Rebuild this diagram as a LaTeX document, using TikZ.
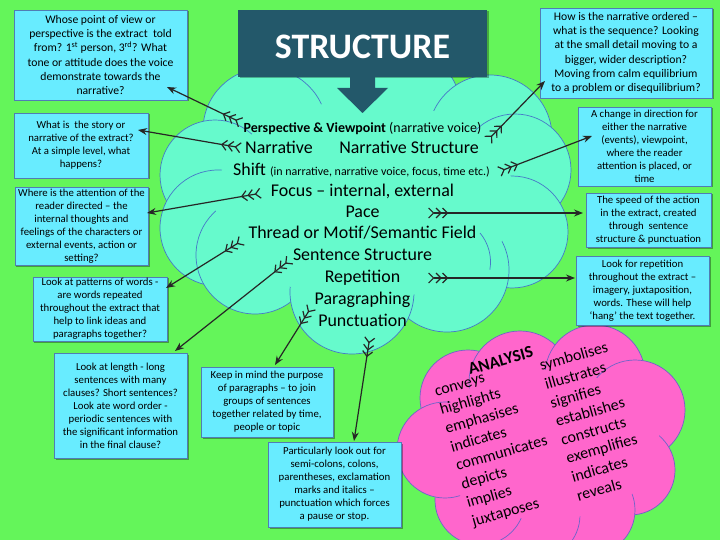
\documentclass[tikz,border=0pt]{standalone}
\usepackage{fontspec}
\setmainfont{Carlito}
\usetikzlibrary{arrows.meta,shadows,calc}
\definecolor{bggreen}{RGB}{100,245,90}
\definecolor{cloudfill}{RGB}{102,250,204}
\definecolor{cloudline}{RGB}{70,120,200}
\definecolor{pinkfill}{RGB}{255,102,204}
\definecolor{pinkline}{RGB}{110,100,200}
\definecolor{boxfill}{RGB}{104,236,255}
\definecolor{boxline}{RGB}{80,125,180}
\definecolor{titleblue}{RGB}{35,88,106}
\tikzset{
  boxstyle/.style={draw=boxline, line width=0.8bp, fill=boxfill, align=center, inner sep=0pt,
    drop shadow={shadow xshift=1.5bp, shadow yshift=-1.5bp, opacity=0.35, fill=black}},
  bigf/.style={font=\fontsize{11.7}{14.3}\selectfont},
  smallf/.style={font=\fontsize{10.8}{13}\selectfont},
  ct/.style={inner sep=0pt, anchor=base, font=\fontsize{18}{20}\selectfont},
  an/.style={inner sep=0pt, rotate=16, anchor=base west, align=left, font=\fontsize{16}{19.4}\selectfont},
  featharrow/.style={line width=1.2bp, draw=black!85,
    {Straight Barb[reversed,length=5bp,width=10bp,sep=1bp] Straight Barb[reversed,length=5bp,width=10bp,sep=1bp] Straight Barb[reversed,length=5bp,width=10bp]}-{Stealth[length=9bp,width=7bp,inset=3bp]}}
}
\begin{document}
\begin{tikzpicture}[x=1bp,y=-1bp]
\useasboundingbox (0,0) rectangle (720,540);
\fill[bggreen] (0,0) rectangle (720,540);

% main cloud
\begin{scope}[fill=cloudfill, draw=cloudline, line width=0.7bp]
  \foreach \cx/\cy/\r in {330/110/50, 410/105/50, 265/130/62, 490/137/62, 215/175/55, 515/170/56,
      512/232/56, 218/228/58, 255/255/59, 447/270/62, 352/292/62}
    \filldraw (\cx,\cy) circle[radius=\r];
  \fill[cloudfill] (365,200) ellipse[x radius=150, y radius=100];
  \draw (480,233) arc[start angle=-40, end angle=10, radius=45];
\end{scope}

% analysis cloud
\begin{scope}[fill=pinkfill, draw=pinkline, line width=0.7bp]
  \foreach \cx/\cy/\r in {468/398/48, 520/382/51, 595/375/50, 635/410/50, 630/470/45,
      590/510/45, 535/515/45, 480/500/45, 445/450/48}
    \filldraw (\cx,\cy) circle[radius=\r];
  \fill[pinkfill] (545,445) ellipse[x radius=115, y radius=75];
\end{scope}

% title
\node[fill=titleblue, minimum width=249bp, minimum height=67bp, inner sep=0pt,
  drop shadow={shadow xshift=1.5bp, shadow yshift=-1.5bp, opacity=0.3, fill=black}] (title) at (362.5,43.5) {};
\fill[titleblue] (350,76) -- (375,76) -- (375,88) -- (388,88) -- (362.5,113) -- (337,88) -- (350,88) -- cycle;
\node[inner sep=0pt, text=white, font=\fontsize{36}{40}\selectfont\bfseries] (tt) at (362.5,47) {STRUCTURE};

% cloud text
\node[ct, font=\fontsize{14}{16}\selectfont] (l1) at (362.5,132.5) {\textbf{Perspective \& Viewpoint} (narrative voice)};
\node[ct] (l2a) at (279,153.5) {Narrative};
\node[ct] (l2b) at (409,153.5) {Narrative Structure};
\node[ct] (l3) at (361.5,175.5) {Shift {\fontsize{12}{13}\selectfont (in narrative, narrative voice, focus, time etc.)}};
\node[ct] (l4) at (362.5,196.5) {Focus – internal, external};
\node[ct] (l5) at (362.5,218) {Pace};
\node[ct] (l6) at (362.5,239) {Thread or Motif/Semantic Field};
\node[ct] (l7) at (362.5,261) {Sentence Structure};
\node[ct] (l8) at (362.5,283) {Repetition};
\node[ct] (l9) at (362.5,304) {Paragraphing};
\node[ct] (l10) at (362.5,326) {Punctuation};

% boxes
\node[boxstyle, bigf, minimum width=173bp, minimum height=90bp] (b1) at (100.5,55)
  {Whose point of view or\\perspective is the extract\ \ told\\from? 1\textsuperscript{st} person, 3\textsuperscript{rd}? What\\tone or attitude does the voice\\demonstrate towards the\\narrative?};
\node[boxstyle, smallf, minimum width=134bp, minimum height=65bp] (b2) at (81,145.5)
  {What is\ \ the story or\\narrative of the extract?\\At a simple level, what\\happens?};
\node[boxstyle, smallf, minimum width=133bp, minimum height=78bp] (b3) at (81.5,226)
  {Where is the attention of the\\reader directed – the\\internal thoughts and\\feelings of the characters or\\external events, action or\\setting?};
\node[boxstyle, smallf, minimum width=134bp, minimum height=64bp] (b4) at (100,309)
  {Look at patterns of words -\\are words repeated\\throughout the extract that\\help to link ideas and\\paragraphs together?};
\node[boxstyle, smallf, minimum width=133bp, minimum height=105bp] (b5) at (120.5,405.5)
  {Look at length - long\\sentences with many\\clauses? Short sentences?\\Look ate word order -\\periodic sentences with\\the significant information\\in the final clause?};
\node[boxstyle, smallf, minimum width=132bp, minimum height=70bp] (b6) at (267,402)
  {Keep in mind the purpose\\of paragraphs – to join\\groups of sentences\\together related by time,\\people or topic};
\node[boxstyle, smallf, minimum width=133bp, minimum height=85bp] (b7) at (334.5,484.5)
  {Particularly look out for\\semi-colons, colons,\\parentheses, exclamation\\marks and italics –\\punctuation which forces\\a pause or stop.};
\node[boxstyle, bigf, minimum width=172bp, minimum height=90bp] (b8) at (626,53)
  {How is the narrative ordered –\\what is the sequence? Looking\\at the small detail moving to a\\bigger, wider description?\\Moving from calm equilibrium\\to a problem or disequilibrium?};
\node[boxstyle, smallf, minimum width=133bp, minimum height=79bp] (b9) at (644.5,146.5)
  {A change in direction for\\either the narrative\\(events), viewpoint,\\where the reader\\attention is placed, or\\time};
\node[boxstyle, smallf, minimum width=125bp, minimum height=54bp] (b10) at (648.5,220)
  {The speed of the action\\in the extract, created\\through\ \ sentence\\structure \& punctuation};
\node[boxstyle, smallf, minimum width=133bp, minimum height=69bp] (b11) at (642.5,290.5)
  {Look for repetition\\throughout the extract –\\imagery, juxtaposition,\\words. These will help\\‘hang’ the text together.};

% arrows
\coordinate (t1) at (242,123);  \coordinate (h1) at (167,87);
\coordinate (t2) at (242,148);  \coordinate (h2) at (138,130);
\coordinate (t3) at (262,193);  \coordinate (h3) at (147,213);
\coordinate (t4) at (243,240);  \coordinate (h4) at (166,288);
\coordinate (t5) at (291,259);  \coordinate (h5) at (175,351);
\coordinate (t6) at (312,306);  \coordinate (h6) at (275,365);
\coordinate (t7) at (370,336);  \coordinate (h7) at (354,441);
\coordinate (t8) at (487,141);  \coordinate (h8) at (545,81);
\coordinate (t9) at (498,172);  \coordinate (h9) at (592,136);
\coordinate (t10) at (427,213); \coordinate (h10) at (583,213);
\coordinate (t11) at (427,278); \coordinate (h11) at (575,278);
\foreach \i in {1,...,11}
  \draw[featharrow] (t\i) -- (h\i);

% analysis words (base anchor = baseline of the last line)
\node[an, font=\fontsize{17}{19}\selectfont\bfseries] (an0) at (470,375) {ANALYSIS};
\node[an] (anl) at (473.4,526.5)
  {conveys\\highlights\\emphasises\\indicates\\communicates\\depicts\\implies\\juxtaposes};
\node[an] (anr) at (578.4,501.1)
  {symbolises\\illustrates\\signifies\\establishes\\constructs\\exemplifies\\indicates\\reveals};
\end{tikzpicture}
\end{document}
